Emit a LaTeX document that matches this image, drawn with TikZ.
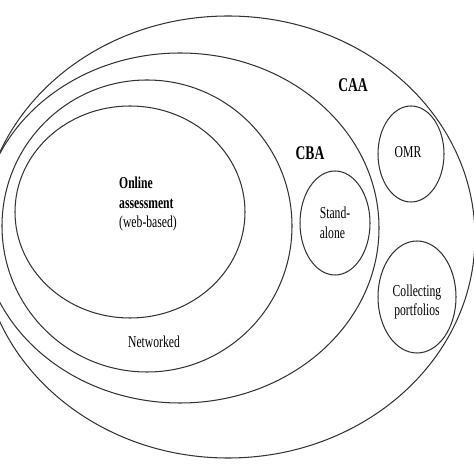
\documentclass[tikz,border=0pt]{standalone}
\usepackage{fontspec}
\setmainfont{Liberation Serif}
\usepackage{tikz}
\usetikzlibrary{calc}
\tikzset{
	ring/.style={line width=0.75pt, draw=black!80},
	lbl/.style={font=\fontsize{12}{14}\selectfont, xscale=0.7, inner sep=0pt},
	head/.style={font=\fontsize{14}{16}\selectfont\bfseries, xscale=0.7, inner sep=0pt}
}

\begin{document}
\begin{tikzpicture}[scale=0.2532]
        \useasboundingbox (0, 0) rectangle (47.4, 47.4);
        \clip (0, 0) rectangle (47.4, 47.4);
        % nested ellipses
        \draw[ring] (22.8, 23.7) ellipse (24.7 and 22.1);
        \draw[ring] (18.0, 24.6) ellipse (19.9 and 17.5);
        \draw[ring] (14.7, 24.8) ellipse (14.5 and 14.6);
        \draw[ring] (13.0, 26.2) ellipse (11.5 and 10.6);
        % small ellipses
        \draw[ring] (33.5, 25.1) ellipse (3.5 and 5.2);
        \draw[ring] (41.1, 32.0) ellipse (3.3 and 4.8);
        \draw[ring] (41.7, 17.7) ellipse (3.9 and 5.6);
        \node[head] (caa) at (35.3, 38.9) {CAA};
        \node[head] (cba) at (31.0, 32.1) {CBA};
        \node[lbl, anchor=west, align=left] (online) at (11.9, 27.0) {\textbf{Online}\\\textbf{assessment}\\(web-based)};
        \node[lbl] (networked) at (15.4, 13.2) {Networked};
        \node[lbl, align=left] (standalone) at (33.5, 25.1) {Stand-\\alone};
        \node[lbl] (omr) at (40.8, 32.2) {OMR};
        \node[lbl, align=center] (portfolios) at (41.7, 17.2) {Collecting\\portfolios};
    \end{tikzpicture}
\end{document}
